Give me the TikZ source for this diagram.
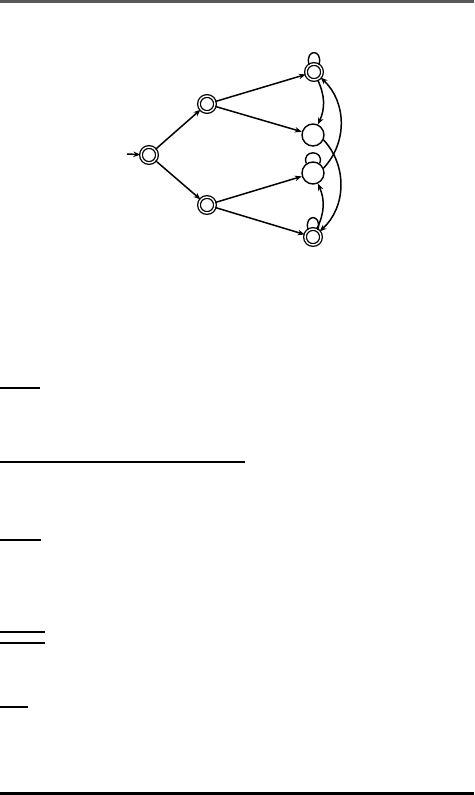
\documentclass[tikz,border=0pt]{standalone}
\usetikzlibrary{arrows.meta}
\begin{document}
\begin{tikzpicture}[x=1pt,y=-1pt,
  st/.style={circle,draw,line width=1.4pt,minimum size=22pt,inner sep=0pt},
  acc/.style={circle,draw,line width=1.3pt,double,double distance=1.4pt,minimum size=16pt,inner sep=0pt},
  arr/.style={line width=1.5pt,-{Stealth[length=7pt,width=5.5pt]}},
  ln/.style={line width=1.4pt},
  rule/.style={line width=2pt}]
\useasboundingbox (0,0) rectangle (474,795);
\fill[gray!70!black] (0,0) rectangle (474,2.5);
\fill[black] (0,792) rectangle (474,795);
% states
\node[acc] (q0) at (149,155) {};
\node[acc] (q1) at (207,104) {};
\node[acc] (q2) at (207,205) {};
\node[acc] (q3) at (314,72) {};
\node[st]  (q4) at (313,135) {};
\node[st]  (q5) at (313,173) {};
\node[acc] (q6) at (313,237) {};
\coordinate (s) at (127,154);
% edges
\draw[arr] (s) -- (q0);
\draw[arr] (q0) -- (q1);
\draw[arr] (q0) -- (q2);
\draw[arr] (q1) -- (q3);
\draw[arr] (q1) -- (q4);
\draw[arr] (q2) -- (q5);
\draw[arr] (q2) -- (q6);
\draw[arr] (q3.-65) to[bend left=25] (q4.65);
\draw[arr] (q5.25) to[bend right=45] (q3.-40);
\draw[arr] (q4.-25) to[bend left=45] (q6.40);
\draw[arr] (q6.65) to[bend right=25] (q5.-65);
% self loops
\draw[ln] (q3.125) .. controls +(105:17pt) and +(75:17pt) .. (q3.55);
\draw[ln] (q5.125) .. controls +(110:15pt) and +(70:15pt) .. (q5.55);
\draw[ln] (q6.125) .. controls +(105:17pt) and +(75:17pt) .. (q6.55);
% rules
\draw[rule] (0,388) -- (40,388);
\draw[rule] (0,462) -- (245,462);
\draw[rule] (0,540) -- (41,540);
\draw[rule] (0,632) -- (45,632);
\draw[rule] (0,643) -- (45,643);
\draw[rule] (0,707) -- (28,707);
\end{tikzpicture}
\end{document}
